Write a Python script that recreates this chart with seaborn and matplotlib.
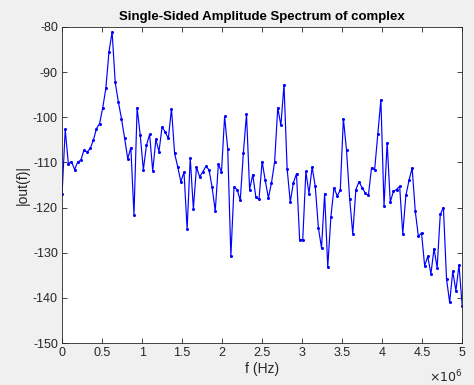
import numpy as np
import matplotlib
matplotlib.use("Agg")
import matplotlib.pyplot as plt
import seaborn as sns

# single-sided spectrum, 129 bins from 0 to 5 MHz
freqs = np.linspace(0, 5e6, 129)
amp_db = [
    -116.9, -102.7, -110.3, -109.8, -111.6, -109.9, -109.5, -107.3, -107.7, -106.9,
    -105.1, -102.5, -101.4, -97.9, -93.6, -85.5, -81.1, -92.3, -96.6, -100.3,
    -104.6, -109.2, -106.7, -121.6, -97.9, -104.0, -111.6, -106.2, -103.8, -111.9,
    -104.9, -107.6, -102.1, -103.3, -104.7, -98.1, -108.0, -111.0, -114.3, -112.1,
    -124.8, -109.0, -120.3, -111.0, -113.2, -112.1, -110.9, -111.6, -115.5, -120.8,
    -110.4, -112.1, -99.8, -107.1, -130.8, -115.5, -116.0, -118.4, -107.9, -99.3,
    -116.0, -112.7, -117.7, -118.2, -109.8, -114.0, -117.9, -114.5, -109.9, -97.9,
    -101.8, -92.8, -111.4, -118.8, -114.5, -112.5, -127.1, -127.1, -112.0, -116.9,
    -111.0, -115.3, -124.5, -128.9, -116.9, -133.2, -122.1, -115.6, -117.4, -116.2,
    -100.3, -107.3, -118.0, -125.8, -116.0, -114.3, -115.6, -116.8, -117.3, -111.2,
    -111.6, -103.8, -96.1, -119.7, -105.6, -118.8, -116.4, -116.0, -115.3, -125.8,
    -117.3, -114.0, -111.2, -120.8, -126.4, -125.6, -132.9, -130.8, -134.7, -129.1,
    -133.3, -121.5, -120.0, -135.8, -141.0, -134.1, -138.4, -132.7, -141.7,
]

xticks = [0, 0.5e6, 1e6, 1.5e6, 2e6, 2.5e6, 3e6, 3.5e6, 4e6, 4.5e6, 5e6]
xtick_labels = ['0', '0.5', '1', '1.5', '2', '2.5', '3', '3.5', '4', '4.5', '5']
yticks = [-150, -140, -130, -120, -110, -100, -90, -80]

sns.set_style("ticks")
plt.rcParams['font.family'] = ['Liberation Sans', 'DejaVu Sans']
plt.rcParams['axes.unicode_minus'] = False

fig = plt.figure(figsize=(4.74, 3.85), dpi=100, facecolor='#f0f0f0')
ax = fig.add_axes([0.131, 0.109, 0.844, 0.821])
ax.set_facecolor('white')

sns.lineplot(x=freqs, y=amp_db, color='#0000ff', linewidth=0.85,
             marker='o', markersize=2.2, markeredgewidth=0, ax=ax)

ax.set_xlim(0, 5e6)
ax.set_ylim(-150, -80)
ax.set_xticks(xticks)
ax.set_xticklabels(xtick_labels)
ax.set_yticks(yticks)
ax.tick_params(direction='in', top=True, right=True, length=3.5, width=0.6,
               labelsize=9, colors='#262626', pad=3)
for s in ax.spines.values():
    s.set_visible(True)
    s.set_color('#262626')
    s.set_linewidth(0.6)

ax.set_title('Single-Sided Amplitude Spectrum of complex', fontsize=9.5,
             fontweight='bold', color='black', pad=5)
ax.set_xlabel('f (Hz)', fontsize=10, color='#262626', labelpad=2)
ax.set_ylabel('|out(f)|', fontsize=10, color='#262626', labelpad=2)
ax.text(1.0, -0.08, r'$\times10^6$', transform=ax.transAxes, ha='right',
        va='top', fontsize=9, color='#262626')

fig.savefig('out.png', dpi=100, facecolor=fig.get_facecolor())
